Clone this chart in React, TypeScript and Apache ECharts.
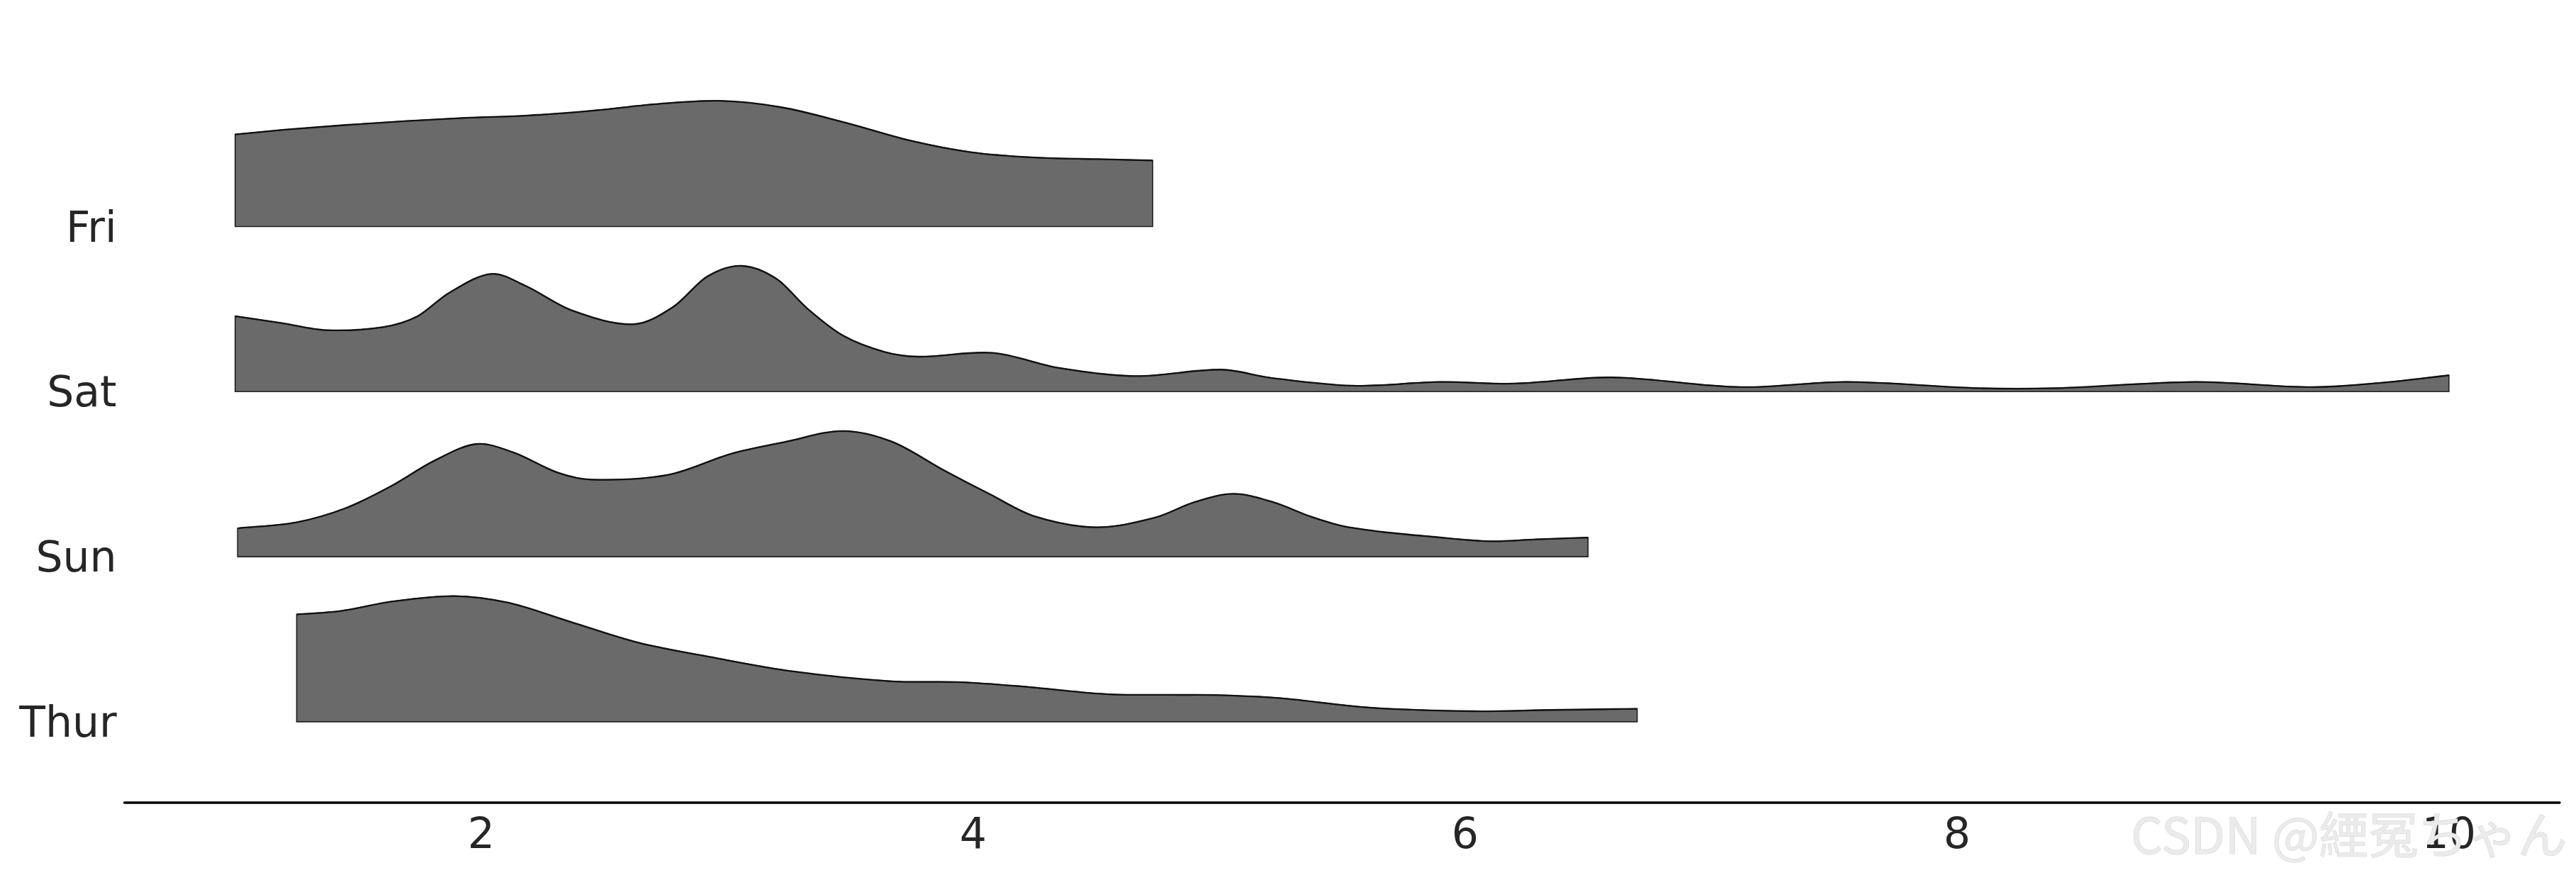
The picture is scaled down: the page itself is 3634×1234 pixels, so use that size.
import React, { useEffect, useRef } from "react";
import * as echarts from "echarts";

const CATEGORIES = ["Fri", "Sat", "Sun", "Thur"];

const FRI_X = [1.0, 1.2, 1.45, 1.7, 1.94, 2.19, 2.45, 2.71, 2.97, 3.22, 3.48, 3.74, 3.99, 4.25, 4.51, 4.73];
const FRI_H = [0.733, 0.77, 0.808, 0.84, 0.865, 0.883, 0.921, 0.974, 1.0, 0.949, 0.827, 0.686, 0.592, 0.549, 0.536, 0.526];

const SAT_X = [1.0, 1.19, 1.37, 1.6, 1.74, 1.87, 2.04, 2.18, 2.37, 2.62, 2.78, 2.92, 3.06, 3.2, 3.33, 3.47, 3.64, 3.78, 4.08, 4.35, 4.66, 5.01, 5.21, 5.54, 5.9, 6.2, 6.6, 7.12, 7.55, 8.08, 8.41, 8.97, 9.44, 9.73, 10.0];
const SAT_H = [0.6, 0.545, 0.489, 0.513, 0.598, 0.786, 0.936, 0.842, 0.645, 0.536, 0.673, 0.917, 1.0, 0.898, 0.654, 0.447, 0.316, 0.278, 0.308, 0.188, 0.124, 0.175, 0.11, 0.047, 0.077, 0.064, 0.113, 0.036, 0.077, 0.028, 0.028, 0.077, 0.036, 0.071, 0.13];

const SUN_X = [1.01, 1.25, 1.45, 1.63, 1.81, 1.98, 2.13, 2.31, 2.45, 2.76, 3.02, 3.24, 3.47, 3.67, 3.88, 4.07, 4.25, 4.5, 4.74, 4.9, 5.06, 5.22, 5.37, 5.5, 5.66, 5.86, 6.1, 6.29, 6.5];
const SUN_H = [0.226, 0.274, 0.387, 0.557, 0.764, 0.896, 0.83, 0.67, 0.613, 0.651, 0.821, 0.915, 1.0, 0.915, 0.689, 0.495, 0.321, 0.234, 0.311, 0.434, 0.5, 0.434, 0.321, 0.245, 0.198, 0.16, 0.123, 0.138, 0.152];

const THUR_X = [1.25, 1.43, 1.64, 1.89, 2.11, 2.36, 2.64, 2.93, 3.27, 3.66, 3.95, 4.2, 4.54, 4.8, 5.0, 5.25, 5.61, 6.03, 6.35, 6.7];
const THUR_H = [0.854, 0.882, 0.957, 1.0, 0.947, 0.797, 0.629, 0.516, 0.4, 0.323, 0.315, 0.281, 0.22, 0.214, 0.212, 0.188, 0.113, 0.084, 0.094, 0.103];

const X_TICKS = [2, 4, 6, 8, 10];
const X_MIN = 0.55;
const X_MAX = 10.45;
const WATERMARK = "CSDN @緸冤ちゃん";

const ROWS = [
  { name: CATEGORIES[0], xs: FRI_X, hs: FRI_H },
  { name: CATEGORIES[1], xs: SAT_X, hs: SAT_H },
  { name: CATEGORIES[2], xs: SUN_X, hs: SUN_H },
  { name: CATEGORIES[3], xs: THUR_X, hs: THUR_H },
];

const W = 3634;
const H = 1234;
const FIRST_BASE = 319.5;
const SPACING = 232.8;
const PEAK_PX = 177.3;
const AXIS_Y = 1131.7;
const GRID_LEFT = 175.6;
const GRID_RIGHT = 23.1;
const FONT = "DejaVu Sans";
const TEXT_COLOR = "#262626";
const LABEL_SIZE = 60;

// Smooth cubic Hermite path through pixel points (function-style spline, x increasing)
function splinePath(P: number[][]): string {
  const n = P.length;
  const m: number[] = [];
  for (let i = 0; i < n; i++) {
    if (i === 0) m.push((P[1][1] - P[0][1]) / (P[1][0] - P[0][0]));
    else if (i === n - 1) m.push((P[n - 1][1] - P[n - 2][1]) / (P[n - 1][0] - P[n - 2][0]));
    else m.push((P[i + 1][1] - P[i - 1][1]) / (P[i + 1][0] - P[i - 1][0]));
  }
  let d = "";
  for (let i = 0; i < n - 1; i++) {
    const dx = P[i + 1][0] - P[i][0];
    const c1x = P[i][0] + dx / 3;
    const c1y = P[i][1] + (m[i] * dx) / 3;
    const c2x = P[i + 1][0] - dx / 3;
    const c2y = P[i + 1][1] - (m[i + 1] * dx) / 3;
    d += ` C ${c1x} ${c1y} ${c2x} ${c2y} ${P[i + 1][0]} ${P[i + 1][1]}`;
  }
  return d;
}

export default function App() {
  const ref = useRef<HTMLDivElement>(null);
  useEffect(() => {
    if (!ref.current) return;
    const chart = echarts.init(ref.current, undefined, { renderer: "svg" });
    const yMax = SPACING / PEAK_PX;
    const n = ROWS.length;
    const grids: any[] = [];
    const xAxes: any[] = [];
    const yAxes: any[] = [];
    const series: any[] = [];
    ROWS.forEach((row, i) => {
      const base = FIRST_BASE + i * SPACING;
      grids.push({ left: GRID_LEFT, right: GRID_RIGHT, top: base - SPACING, height: SPACING });
      const isLast = i === n - 1;
      xAxes.push({
        gridIndex: i,
        type: "value",
        min: X_MIN,
        max: X_MAX,
        show: isLast,
        position: "bottom",
        offset: isLast ? AXIS_Y - base : 0,
        splitLine: { show: false },
        axisTick: { show: false },
        axisLine: { show: isLast, onZero: false, lineStyle: { color: "#000", width: 3.5 } },
        axisLabel: {
          show: isLast,
          margin: 13,
          fontSize: LABEL_SIZE,
          fontFamily: FONT,
          color: TEXT_COLOR,
          showMinLabel: false,
          showMaxLabel: false,
          formatter: (v: number) => (X_TICKS.indexOf(v) >= 0 ? String(v) : ""),
        },
      });
      yAxes.push({
        gridIndex: i,
        type: "value",
        min: 0,
        max: yMax,
        interval: yMax,
        splitLine: { show: false },
        axisTick: { show: false },
        axisLine: { show: false },
        axisLabel: {
          show: true,
          margin: 11,
          fontSize: LABEL_SIZE,
          fontFamily: FONT,
          color: TEXT_COLOR,
          align: "right",
          verticalAlign: "middle",
          formatter: (v: number) => (v === 0 ? row.name : ""),
        },
      });
      const pts = row.xs.map((x, k) => [x, row.hs[k]]);
      const last = row.xs.length - 1;
      series.push({
        type: "custom",
        name: row.name,
        xAxisIndex: i,
        yAxisIndex: i,
        data: pts,
        encode: { x: 0, y: 1 },
        clip: false,
        renderItem: (params: any, api: any) => {
          if (params.dataIndex !== 0) return null;
          const P = pts.map((p) => api.coord(p));
          const b0 = api.coord([row.xs[0], 0]);
          const b1 = api.coord([row.xs[last], 0]);
          const curve = `M ${P[0][0]} ${P[0][1]}` + splinePath(P);
          const area = `M ${b0[0]} ${b0[1]} L ${P[0][0]} ${P[0][1]}` + splinePath(P) + ` L ${b1[0]} ${b1[1]} Z`;
          return {
            type: "group",
            children: [
              {
                type: "path",
                shape: { pathData: area },
                style: { fill: "#6a6a6a", stroke: "#222", lineWidth: 1.6 },
              },
              {
                type: "path",
                shape: { pathData: curve },
                style: { fill: "none", stroke: "#111", lineWidth: 2.3 },
              },
            ],
          };
        },
        z: 2,
      });
    });
    chart.setOption({
      animation: false,
      backgroundColor: "#fff",
      grid: grids,
      xAxis: xAxes,
      yAxis: yAxes,
      series,
      graphic: [
        {
          type: "text",
          right: 12,
          top: 1138,
          z: 100,
          style: {
            text: WATERMARK,
            fontSize: 70,
            fontFamily: "Noto Sans CJK JP",
            fill: "#ebebeb",
            stroke: "#d2d2d2",
            lineWidth: 1,
          },
        },
      ],
    });
    return () => chart.dispose();
  }, []);
  return (
    <div
      ref={ref}
      style={{ position: "fixed", left: 0, top: 0, width: W, height: H, background: "#fff" }}
    />
  );
}
